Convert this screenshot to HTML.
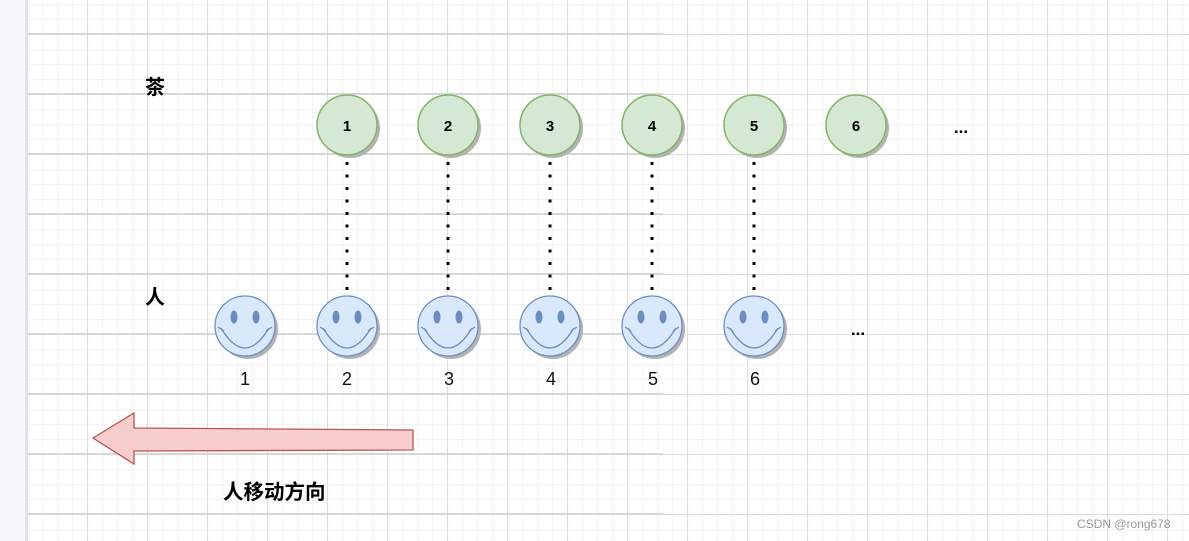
<!DOCTYPE html>
<html><head><meta charset="utf-8"><style>
html,body{margin:0;padding:0;background:#fff;}
svg{display:block;}
</style></head><body>
<svg width="1189" height="541" xmlns="http://www.w3.org/2000/svg" font-family="Liberation Sans, Noto Sans CJK SC, sans-serif">
<defs>
<pattern id="minor" x="27" y="34" width="15" height="15" patternUnits="userSpaceOnUse">
<path d="M0 0.5H15M0.5 0V15" stroke="#f3f3f3" stroke-width="1.5" fill="none"/>
</pattern>
<pattern id="major" x="27" y="34" width="60" height="60" patternUnits="userSpaceOnUse">
<path d="M0 0.5H60M0.5 0V60" stroke="#dedede" stroke-width="1" fill="none"/>
</pattern>
<g id="smile">
<circle cx="3" cy="3" r="30" fill="#b3b3b3"/>
<circle cx="0" cy="0" r="30" fill="#dae8fc" stroke="#6c8ebf" stroke-width="1.3"/>
<ellipse cx="-11" cy="-9" rx="3.5" ry="6.5" fill="#6c8ebf"/>
<ellipse cx="11" cy="-9" rx="3.5" ry="6.5" fill="#6c8ebf"/>
<path d="M-24 2 Q-12 22 0 22 Q12 22 24 2" stroke="#6c8ebf" stroke-width="1.3" fill="none"/>
<path d="M-27 1 L-21 5 M27 1 L21 5" stroke="#6c8ebf" stroke-width="1.3"/>
</g>
<g id="tea">
<circle cx="3" cy="3" r="30" fill="#b3b3b3"/>
<circle cx="0" cy="0" r="30" fill="#d5e8d4" stroke="#82b366" stroke-width="1.5"/>
</g>
</defs>
<rect x="0" y="0" width="1189" height="541" fill="#fff"/>
<rect x="27" y="0" width="1162" height="541" fill="url(#minor)"/>
<rect x="27" y="0" width="1162" height="541" fill="url(#major)"/>
<g stroke="#d6d6d6" stroke-width="2">
<path d="M27 34H663M27 94H663M27 154H663M27 214H663M27 274H663M27 334H663M27 394H663M27 454H663M27 514H663"/>
</g>
<rect x="0" y="0" width="26" height="541" fill="#f6f7f9"/>
<rect x="25" y="0" width="2" height="541" fill="#e3e4e6"/>

<text x="155" y="94" font-size="20" font-weight="bold" text-anchor="middle">茶</text>
<text x="155" y="304" font-size="20" font-weight="bold" text-anchor="middle">人</text>

<g stroke="#000" stroke-width="3" stroke-dasharray="3 9.5" fill="none">
<path d="M347 162V296M448 162V296M550 162V296M652 162V296M754 162V296"/>
</g>

<g font-size="15" font-weight="bold" text-anchor="middle">
<use href="#tea" x="347" y="125"/><text x="347" y="131">1</text>
<use href="#tea" x="448" y="125"/><text x="448" y="131">2</text>
<use href="#tea" x="550" y="125"/><text x="550" y="131">3</text>
<use href="#tea" x="652" y="125"/><text x="652" y="131">4</text>
<use href="#tea" x="754" y="125"/><text x="754" y="131">5</text>
<use href="#tea" x="856" y="125"/><text x="856" y="131">6</text>
<text x="961" y="133" font-size="17">...</text>
<text x="858" y="335" font-size="17">...</text>
</g>

<use href="#smile" x="245" y="326"/>
<use href="#smile" x="347" y="326"/>
<use href="#smile" x="448" y="326"/>
<use href="#smile" x="550" y="326"/>
<use href="#smile" x="652" y="326"/>
<use href="#smile" x="754" y="326"/>

<g font-size="18" text-anchor="middle" fill="#111">
<text x="245" y="385">1</text><text x="347" y="385">2</text><text x="449" y="385">3</text>
<text x="551" y="385">4</text><text x="653" y="385">5</text><text x="755" y="385">6</text>
</g>

<path d="M93 438 L134 413 L134 428 L413 430 L413 450 L134 451 L134 464 Z" fill="#f8cecc" stroke="#b85450" stroke-width="1.3"/>

<text x="223" y="499" font-size="20.5" font-weight="bold">人移动方向</text>
<text x="1077" y="528" font-size="12" fill="#999">CSDN @rong678</text>
</svg>
</body></html>
